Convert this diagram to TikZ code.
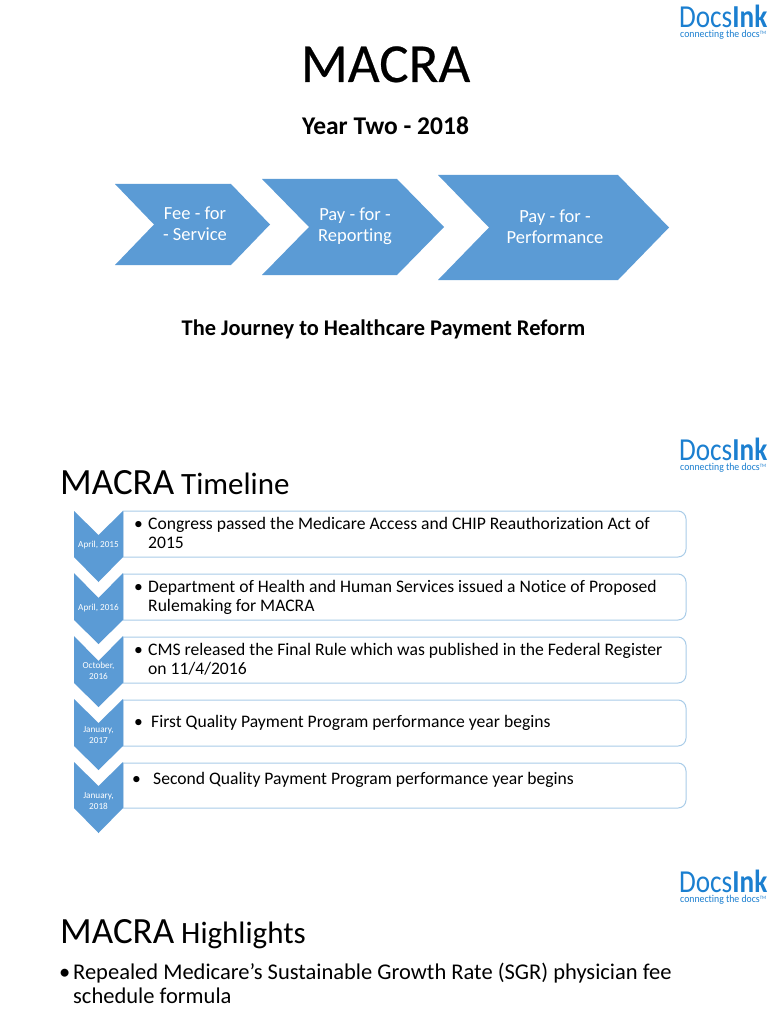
\documentclass[tikz,border=0pt]{standalone}
\usepackage{fontspec}
\setmainfont{Carlito}[Ligatures=NoCommon]
\definecolor{blu}{HTML}{5B9BD5}
\definecolor{edgeb}{HTML}{A9CCE8}
\definecolor{logob}{HTML}{1B7FD0}
\tikzset{
  x=1pt,y=-1pt,
  chev/.style={fill=blu,draw=none},
  chevtxt/.style={text=white,font=\fontsize{18.5}{21.5}\selectfont,align=center,inner sep=0pt},
  datetxt/.style={text=white,font=\fontsize{9.2}{10.5}\selectfont,align=center,inner sep=0pt},
  itembox/.style={draw=edgeb,line width=1pt,fill=white},
  itemtxt/.style={anchor=base west,inner sep=0pt,font=\fontsize{17.6}{21}\selectfont,text=black},
  headtxt/.style={anchor=base west,inner sep=0pt,text=black},
  ctrtxt/.style={anchor=base,inner sep=0pt,text=black},
  logomain/.style={anchor=base west,inner sep=0pt,text=logob,font=\fontsize{32}{32}\selectfont,xscale=.85},
  logosub/.style={anchor=base west,inner sep=0pt,text=logob,font=\fontsize{10.5}{11}\selectfont,xscale=.93},
}
\newcommand{\docslogo}[3]{%
  \node[logomain] (#1m) at (679,#2) {Docs\textbf{Ink}};
  \node[logosub] (#1s) at (680,#3) {connecting the docs\raisebox{3pt}{\fontsize{5}{5}\selectfont TM}};
}
\newcommand{\downchev}[7]{% name, top, notch, bottom, tip, date-y, date
  \fill[chev] (74,#2) -- (98.5,#3) -- (123,#2) -- (123,#4) -- (98.5,#5) -- (74,#4) -- cycle;
  \node[datetxt] (#1) at (98.5,#6) {#7};
}
\newcommand{\itemrow}[3]{% name, top, bottom
  \draw[itembox] (123,#2) -- (678,#2) .. controls (682.4,#2) and (686,#2+3.6) .. (686,#2+8)
    -- (686,#3-8) .. controls (686,#3-3.6) and (682.4,#3) .. (678,#3) -- (123,#3) -- cycle;
}
\begin{document}
\begin{tikzpicture}
\useasboundingbox (0,0) rectangle (768,1024);
\fill[white] (0,0) rectangle (768,1024);

% first slide
\docslogo{la}{28}{38}
\node[ctrtxt,font=\addfontfeature{FakeBold=0.4}\fontsize{55}{55}\selectfont] (title) at (385.5,82) {MACRA};
\node[ctrtxt,font=\bfseries\fontsize{25.5}{25.5}\selectfont] (year) at (385.5,135) {Year Two - 2018};
\fill[chev] (115,184) -- (231,184) -- (270,224.5) -- (231,265) -- (115,265) -- (154,224.5) -- cycle;
\fill[chev] (262,179) -- (397,179) -- (444,227) -- (397,275) -- (262,275) -- (309,227) -- cycle;
\fill[chev] (438,175) -- (618,175) -- (669,227.5) -- (618,280) -- (438,280) -- (489,227.5) -- cycle;
\node[chevtxt] (c1) at (195,223.5) {Fee - for\\- Service};
\node[chevtxt] (c2) at (355,226) {Pay - for -\\Reporting};
\node[chevtxt] (c3) at (555,226.5) {Pay - for -\\Performance};
\node[ctrtxt,font=\bfseries\fontsize{22.4}{22.4}\selectfont] (journey) at (383.5,335) {The Journey to Healthcare Payment Reform};

% second slide
\docslogo{lb}{460}{470}
\node[headtxt] (h2) at (60,494) {\fontsize{37}{37}\selectfont MACRA\fontsize{31}{31}\selectfont{} Timeline};

\itemrow{r1}{511}{557}
\itemrow{r2}{574}{620}
\itemrow{r3}{637}{683}
\itemrow{r4}{700}{746}
\itemrow{r5}{763}{808}
\downchev{d1}{511}{535}{557}{582}{545}{April, 2015}
\downchev{d2}{573}{598}{620}{644}{608}{April, 2016}
\downchev{d3}{636}{661}{683}{707}{671}{October,\\2016}
\downchev{d4}{699}{723}{746}{770}{735}{January,\\2017}
\downchev{d5}{762}{786}{808}{833}{801}{January,\\2018}

\node[itemtxt] (b1) at (134,529) {•};
\node[itemtxt] (t1a) at (148,529) {Congress passed the Medicare Access and CHIP Reauthorization Act of};
\node[itemtxt] (t1b) at (148,548) {2015};
\node[itemtxt] (b2) at (134,592) {•};
\node[itemtxt] (t2a) at (148,592) {Department of Health and Human Services issued a Notice of Proposed};
\node[itemtxt] (t2b) at (148,611) {Rulemaking for MACRA};
\node[itemtxt] (b3) at (134,655) {•};
\node[itemtxt] (t3a) at (148,655) {CMS released the Final Rule which was published in the Federal Register};
\node[itemtxt] (t3b) at (148,674) {on 11/4/2016};
\node[itemtxt] (b4) at (134,727) {•};
\node[itemtxt] (t4a) at (151,727) {First Quality Payment Program performance year begins};
\node[itemtxt] (b5) at (132,784) {•};
\node[itemtxt] (t5a) at (153,784) {Second Quality Payment Program performance year begins};

% third slide
\docslogo{lc}{892}{902.5}
\node[headtxt] (h3) at (60,943) {\fontsize{37}{37}\selectfont MACRA\fontsize{31}{31}\selectfont{} Highlights};
\node[headtxt,font=\fontsize{22.5}{22.5}\selectfont] (b6) at (59,979) {•};
\node[headtxt,font=\fontsize{22.5}{22.5}\selectfont] (t6a) at (73,979) {Repealed Medicare’s Sustainable Growth Rate (SGR) physician fee};
\node[headtxt,font=\fontsize{22.5}{22.5}\selectfont] (t6b) at (73,1003) {schedule formula};
\end{tikzpicture}
\end{document}
